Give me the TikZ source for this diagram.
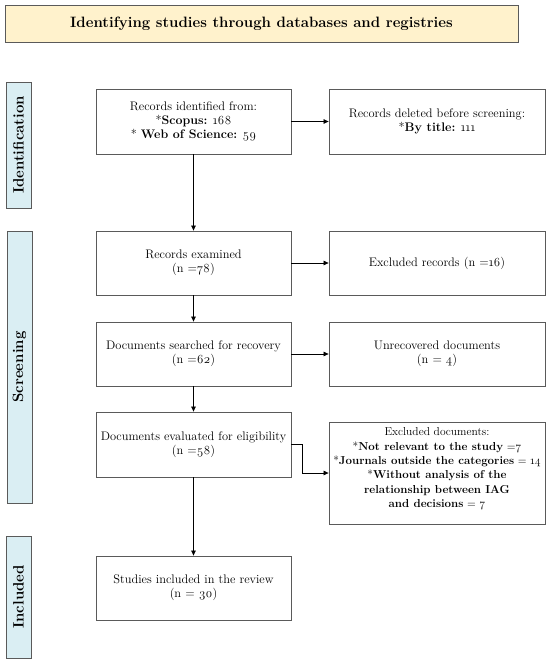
\documentclass[tikz,border=0pt]{standalone}
\usepackage{fontspec}
\setmainfont{Latin Modern Roman}[Numbers=OldStyle]
\usetikzlibrary{arrows.meta}
\definecolor{bordergray}{HTML}{5A5A5A}
\definecolor{titlefill}{HTML}{FFF2CC}
\definecolor{sidefill}{HTML}{DAEEF3}
\tikzset{
  box/.style={draw=bordergray, line width=0.8pt, fill=white, align=center, inner sep=2pt,
    font=\fontsize{12.4}{13.8}\selectfont, minimum width=195pt},
  sidebox/.style={draw=bordergray, line width=0.9pt, fill=sidefill, rotate=90,
    font=\fontsize{15}{17}\selectfont\bfseries, minimum height=25pt, inner sep=1pt},
  arr/.style={-{Triangle[length=5pt,width=4.5pt]}, line width=0.7pt, black},
}
\begin{document}
\begin{tikzpicture}[x=1pt,y=-1pt]
\useasboundingbox (0,0) rectangle (550,664);
% title
\node[draw=bordergray, line width=0.9pt, fill=titlefill, minimum width=513pt, minimum height=37pt,
  font=\fontsize{15}{17}\selectfont\bfseries] (title) at (261.5,23.5)
  {Identifying studies through databases and registries};
% side labels
\node[sidebox, minimum width=126pt] (sid) at (18.5,145) {Identification};
\node[sidebox, minimum width=272pt] (sscr) at (19.5,367) {Screening};
\node[sidebox, minimum width=122pt] (sinc) at (18.5,597) {Included};
% left column
\node[box, minimum height=65pt] (b1) at (193.5,121.5)
  {Records identified from:\\ *\textbf{Scopus:} 168\\ * \textbf{Web of Science:} 59};
\node[box, minimum height=64pt] (b2) at (193.5,263) {Records examined\\ (n =78)};
\node[box, minimum height=64pt] (b3) at (193.5,354) {Documents searched for recovery\\ (n =62)};
\node[box, minimum height=65pt] (b4) at (193.5,444.5) {Documents evaluated for eligibility\\ (n =58)};
\node[box, minimum height=64pt] (b5) at (193.5,588) {Studies included in the review\\ (n = 30)};
% right column
\node[box, minimum width=216pt, minimum height=65pt] (r1) at (437,121.5)
  {Records deleted before screening:\\ *\textbf{By title:} 111};
\node[box, minimum width=216pt, minimum height=64pt] (r2) at (437,263) {Excluded records (n =16)};
\node[box, minimum width=216pt, minimum height=64pt] (r3) at (437,354) {Unrecovered documents\\ (n = 4)};
\node[box, minimum width=216pt, minimum height=102pt] (r4) at (437,473) {};
\node[align=center, inner sep=1pt, font=\fontsize{11.5}{14.4}\selectfont] (r4text) at (437,469)
  {Excluded documents:\\ *\textbf{Not relevant to the study} =7\\ *\textbf{Journals outside the categories} = 14\\
   *\textbf{Without analysis of the}\\ \textbf{relationship between IAG}\\ \textbf{and decisions} = 7};
% connectors
\draw[arr] (b1) -- (b2);
\draw[arr] (b2) -- (b3);
\draw[arr] (b3) -- (b4);
\draw[arr] (b4) -- (b5);
\draw[arr] (b1) -- (r1);
\draw[arr] (b2) -- (r2);
\draw[arr] (b3) -- (r3);
\draw[arr] (b4.east) -- ++(11,0) |- (r4.west);
\end{tikzpicture}
\end{document}
